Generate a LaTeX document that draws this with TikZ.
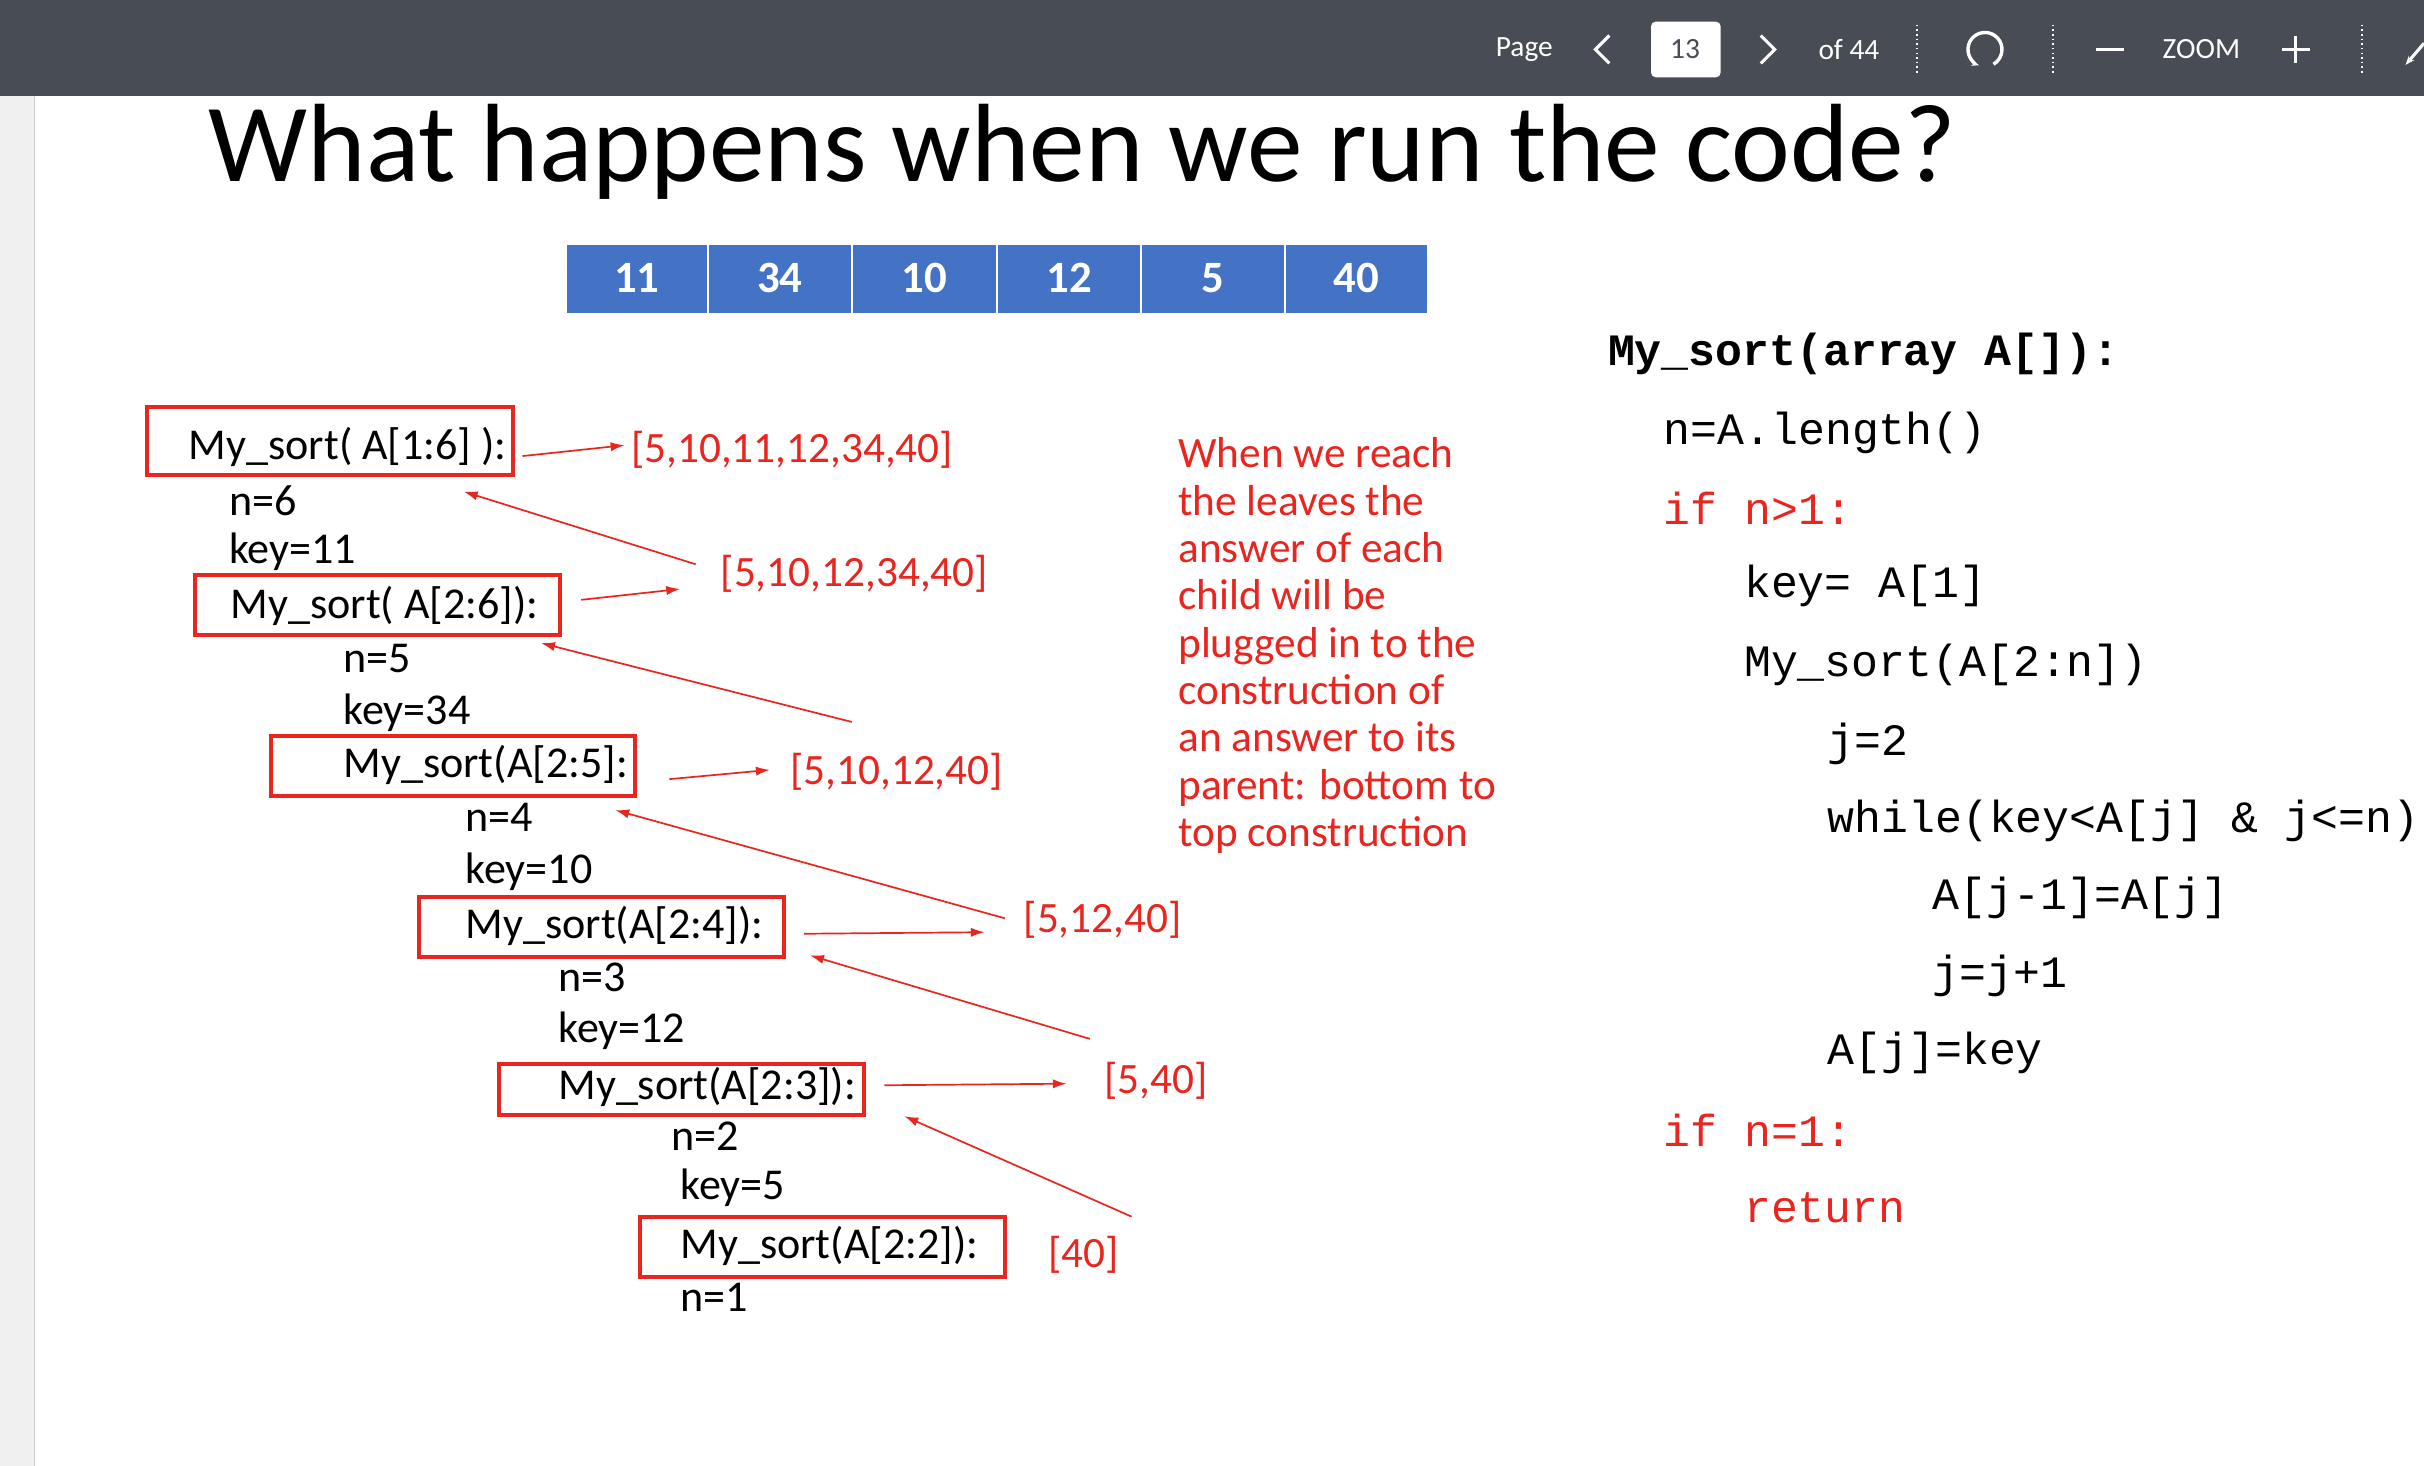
\documentclass[tikz,border=0pt]{standalone}
\usepackage{fontspec}
\setmainfont{Carlito}
\setmonofont{Liberation Mono}
\usetikzlibrary{arrows.meta}
\definecolor{bar}{HTML}{474C55}
\definecolor{cellblue}{HTML}{4472C4}
\definecolor{rd}{HTML}{E8251F}
\tikzset{
 x=1pt,y=-1pt,
 t/.style={anchor=west,inner sep=0pt,font=\fontsize{28.5}{28.5}\selectfont},
 res/.style={anchor=west,inner sep=0pt,text=rd,font=\fontsize{28}{28}\selectfont},
 rbox/.style={draw=rd,line width=2.6pt},
 arr/.style={draw=rd,line width=1.1pt,-{Latex[length=9pt,width=6pt]}},
 code/.style={anchor=west,inner sep=0pt,font=\ttfamily\fontsize{29}{29}\selectfont},
 cell/.style={fill=cellblue,draw=white,line width=1.5pt},
 bartext/.style={text=white,inner sep=0pt,font=\fontsize{19}{19}\selectfont}
}
\begin{document}
\begin{tikzpicture}
\useasboundingbox (0,0) rectangle (1568,948);
\fill[white] (0,0) rectangle (1568,948);
\fill[gray!12] (0,62) rectangle (22,948);
\draw[gray!40] (22,62) -- (22,948);
\fill[bar] (0,0) rectangle (1568,62);
% top bar
\node[bartext] (pg) at (986,32) {Page};
\draw[white,line width=2pt] (1041,23) -- (1032,32) -- (1041,41);
\fill[white,rounded corners=3pt] (1068,14) rectangle (1113,50);
\node[inner sep=0pt,font=\fontsize{19}{19}\selectfont,text=bar] (num) at (1090,32) {13};
\draw[white,line width=2pt] (1139,23) -- (1148,32) -- (1139,41);
\node[bartext] (of) at (1196,32) {of 44};
\draw[white,dotted,line width=1pt] (1240,16) -- (1240,48);
\draw[white,line width=2.2pt,-{Stealth[length=5pt]}] (1284,32) ++(60:11) arc (60:-250:11);
\draw[white,dotted,line width=1pt] (1328,16) -- (1328,48);
\draw[white,line width=2pt] (1356,32) -- (1374,32);
\node[bartext] (zm) at (1424,32) {ZOOM};
\draw[white,line width=2pt] (1476,32) -- (1494,32) (1485,23) -- (1485,41);
\draw[white,dotted,line width=1pt] (1528,16) -- (1528,48);
\draw[white,line width=2pt,-{Stealth[length=6pt]}] (1568,28) -- (1556,42);
% title
\node[inner sep=0pt,font=\fontsize{72}{72}\selectfont] (title) at (700,98) {What happens when we run the code?};
% array
\foreach \a/\b/\v in {366/458/11,458/551/34,551/645/10,645/738/12,738/831/5,831/924/40}{
 \draw[cell] (\a,158) rectangle (\b,203);
 \node[text=white,font=\bfseries\fontsize{29}{29}\selectfont] at ({(\a+\b)/2},180) {\v};}
% boxes
\draw[rbox] (95,263) rectangle (332,307); \node[t] (b1) at (122,289) {My\_sort( A[1:6] ):};
\draw[rbox] (126,372) rectangle (362,411); \node[t] (b2) at (149,392) {My\_sort( A[2:6]):};
\draw[rbox] (175,476) rectangle (411,515); \node[t] (b3) at (222,495) {My\_sort(A[2:5]:};
\draw[rbox] (271,580) rectangle (507,619); \node[t] (b4) at (301,599) {My\_sort(A[2:4]):};
\draw[rbox] (323,688) rectangle (559,721); \node[t] (b5) at (361,703) {My\_sort(A[2:3]):};
\draw[rbox] (414,787) rectangle (650,826); \node[t] (b6) at (440,806) {My\_sort(A[2:2]):};
\foreach \x/\y/\s in {148/324/n=6,148/357/key=11,222/426/n=5,222/461/key=34,301/529/n=4,301/564/key=10,361/632/n=3,361/667/key=12,434/735/n=2,440/768/key=5,440/839/n=1}
 \node[t] at (\x,\y) {\s};
% results
\node[res] (r1) at (408,291) {[5,10,11,12,34,40]};
\node[res] (r2) at (466,371) {[5,10,12,34,40]};
\node[res] (r3) at (511,499) {[5,10,12,40]};
\node[res] (r4) at (662,595) {[5,12,40]};
\node[res] (r5) at (714,699) {[5,40]};
\node[res] (r6) at (678,812) {[40]};
% arrows
\coordinate (a1s) at (338,295); \coordinate (a1e) at (404,288);
\coordinate (a2s) at (450,365); \coordinate (a2e) at (300,318);
\coordinate (a3s) at (376,388); \coordinate (a3e) at (440,381);
\coordinate (a4s) at (551,467); \coordinate (a4e) at (350,416);
\coordinate (a5s) at (433,504); \coordinate (a5e) at (498,498);
\coordinate (a6s) at (650,594); \coordinate (a6e) at (398,524);
\coordinate (a7s) at (520,604); \coordinate (a7e) at (637,603);
\coordinate (a8s) at (705,672); \coordinate (a8e) at (524,618);
\coordinate (a9s) at (572,702); \coordinate (a9e) at (690,701);
\coordinate (a10s) at (732,787); \coordinate (a10e) at (585,722);
\foreach \i in {1,...,10} \draw[arr] (a\i s) -- (a\i e);
% note
\node[anchor=north west,inner sep=0pt,text=rd,align=left,font=\fontsize{28}{30.6}\selectfont] (note) at (762,283)
 {When we reach\\the leaves the\\answer of each\\child will be\\plugged in to the\\construction of\\an answer to its\\parent: bottom to\\top construction};
% code
\begin{scope}
\clip (0,62) rectangle (1568,948);
\node[code,font=\ttfamily\bfseries\fontsize{29}{29}\selectfont] (c0) at (1040,229) {My\_sort(array A[]):};
\node[code] (c1) at (1076,280) {n=A.length()};
\node[code,text=rd] (c2) at (1076,329) {if n>1:};
\node[code] (c3) at (1128,379) {key= A[1]};
\node[code] (c4) at (1128,430) {My\_sort(A[2:n])};
\node[code] (c5) at (1182,481) {j=2};
\node[code] (c6) at (1182,531) {while(key<A[j] \& j<=n)};
\node[code] (c7) at (1250,581) {A[j-1]=A[j]};
\node[code] (c8) at (1250,631) {j=j+1};
\node[code] (c9) at (1182,681) {A[j]=key};
\node[code,text=rd] (c10) at (1076,731) {if n=1:};
\node[code,text=rd] (c11) at (1128,781) {return};
\end{scope}
\end{tikzpicture}
\end{document}
